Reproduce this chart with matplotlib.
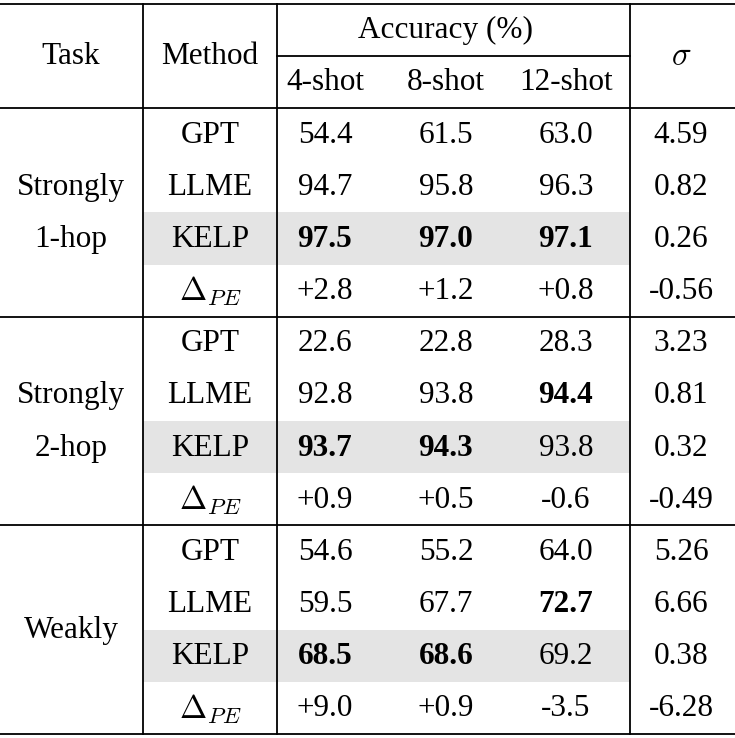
import matplotlib
matplotlib.use("Agg")
import matplotlib.pyplot as plt

plt.rcParams['font.family'] = ['Liberation Serif', 'DejaVu Serif']
plt.rcParams['mathtext.fontset'] = 'cm'

tasks = [["Strongly", "1-hop"], ["Strongly", "2-hop"], ["Weakly"]]
methods = ["GPT", "LLME", "KELP", r"$\Delta_{PE}$"]
shots = ["4-shot", "8-shot", "12-shot"]

acc = [
    [["54.4", "61.5", "63.0"], ["94.7", "95.8", "96.3"], ["97.5", "97.0", "97.1"], ["+2.8", "+1.2", "+0.8"]],
    [["22.6", "22.8", "28.3"], ["92.8", "93.8", "94.4"], ["93.7", "94.3", "93.8"], ["+0.9", "+0.5", "-0.6"]],
    [["54.6", "55.2", "64.0"], ["59.5", "67.7", "72.7"], ["68.5", "68.6", "69.2"], ["+9.0", "+0.9", "-3.5"]],
]
sigma = [
    ["4.59", "0.82", "0.26", "-0.56"],
    ["3.23", "0.81", "0.32", "-0.49"],
    ["5.26", "6.66", "0.38", "-6.28"],
]
bold = [
    [[False] * 3, [False] * 3, [True, True, True], [False] * 3],
    [[False] * 3, [False, False, True], [True, True, False], [False] * 3],
    [[False] * 3, [False, False, True], [True, True, False], [False] * 3],
]

W, H = 735, 738
fig = plt.figure(figsize=(W / 100, H / 100), dpi=100)
ax = fig.add_axes([0, 0, 1, 1])
ax.set_xlim(0, W)
ax.set_ylim(H, 0)
ax.axis('off')

fs = 22.5
lw = 1.3
col_x = [71, 210, 325, 446, 566, 681]
vlines = [143, 277.5, 630]
y_top, y_mid, y_head = 3.5, 56, 108
y_bot = 734
n_rows = 12
rh = (y_bot - y_head) / n_rows

# shading for KELP rows
for g in range(3):
    r = g * 4 + 2
    y0 = y_head + r * rh
    ax.fill_between([vlines[0], vlines[2]], y0, y0 + rh, color='#e4e4e4', lw=0, zorder=0)

# horizontal lines
ax.plot([0, W], [y_top, y_top], color='black', lw=lw)
ax.plot([vlines[1], vlines[2]], [y_mid, y_mid], color='black', lw=lw)
ax.plot([0, W], [y_head, y_head], color='black', lw=lw)
for g in range(1, 3):
    y = y_head + g * 4 * rh
    ax.plot([0, W], [y, y], color='black', lw=lw)
ax.plot([0, W], [y_bot, y_bot], color='black', lw=lw)
for x in vlines:
    ax.plot([x, x], [y_top, y_bot], color='black', lw=lw)

# header
ax.text(col_x[0], (y_top + y_head) / 2 + 1, "Task", ha='center', va='center', fontsize=fs)
ax.text(col_x[1], (y_top + y_head) / 2 + 1, "Method", ha='center', va='center', fontsize=fs)
ax.text(col_x[3], (y_top + y_mid) / 2 + 1, "Accuracy (%)", ha='center', va='center', fontsize=fs)
for j, s in enumerate(shots):
    ax.text(col_x[2 + j], (y_mid + y_head) / 2 + 1, s, ha='center', va='center', fontsize=fs)
ax.text(col_x[5], (y_top + y_head) / 2 + 1, r"$\sigma$", ha='center', va='center', fontsize=fs + 1)

for g in range(3):
    gy0 = y_head + g * 4 * rh
    lab = tasks[g]
    if len(lab) == 2:
        ax.text(col_x[0], gy0 + 1.5 * rh + 1, lab[0], ha='center', va='center', fontsize=fs)
        ax.text(col_x[0], gy0 + 2.5 * rh + 1, lab[1], ha='center', va='center', fontsize=fs)
    else:
        ax.text(col_x[0], gy0 + 2.0 * rh + 1, lab[0], ha='center', va='center', fontsize=fs)
    for i, m in enumerate(methods):
        yc = gy0 + (i + 0.5) * rh + 1
        ax.text(col_x[1], yc, m, ha='center', va='center', fontsize=fs + (1 if i == 3 else 0))
        for j in range(3):
            ax.text(col_x[2 + j], yc, acc[g][i][j], ha='center', va='center', fontsize=fs,
                    fontweight='bold' if bold[g][i][j] else 'normal')
        ax.text(col_x[5], yc, sigma[g][i], ha='center', va='center', fontsize=fs)

fig.savefig("out.png", dpi=100)
